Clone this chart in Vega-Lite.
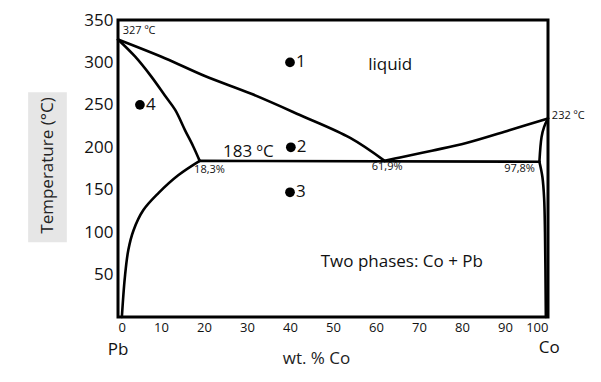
{
  "$schema": "https://vega.github.io/schema/vega-lite/v6.json",
  "width": 430,
  "height": 297,
  "autosize": "none",
  "padding": {"left": 118, "top": 20, "right": 53, "bottom": 65},
  "background": "white",
  "config": {
    "view": {"stroke": "black", "strokeWidth": 3},
    "font": "Open Sans",
    "axis": {"gridColor": "#efefef", "gridWidth": 1, "domain": false, "ticks": false, "labelColor": "#111", "titleColor": "#222", "labelFont": "Open Sans", "titleFont": "Open Sans", "titleFontWeight": "normal"}
  },
  "datasets": {
    "curves": [
      {"curve": "liqL", "o": 0, "x": 0, "t": 327},
      {"curve": "liqL", "o": 1, "x": 10.9, "t": 305},
      {"curve": "liqL", "o": 2, "x": 20.2, "t": 284},
      {"curve": "liqL", "o": 3, "x": 31, "t": 263},
      {"curve": "liqL", "o": 4, "x": 42.3, "t": 238},
      {"curve": "liqL", "o": 5, "x": 54, "t": 211},
      {"curve": "liqL", "o": 6, "x": 62, "t": 184},
      {"curve": "solL", "o": 0, "x": 0, "t": 327},
      {"curve": "solL", "o": 1, "x": 3.95, "t": 307},
      {"curve": "solL", "o": 2, "x": 7.8, "t": 283},
      {"curve": "solL", "o": 3, "x": 10.9, "t": 261},
      {"curve": "solL", "o": 4, "x": 13.3, "t": 244},
      {"curve": "solL", "o": 5, "x": 15.6, "t": 220},
      {"curve": "solL", "o": 6, "x": 17.5, "t": 201},
      {"curve": "solL", "o": 7, "x": 19, "t": 184},
      {"curve": "solvL", "o": 0, "x": 19, "t": 184},
      {"curve": "solvL", "o": 1, "x": 14, "t": 167},
      {"curve": "solvL", "o": 2, "x": 9.4, "t": 146},
      {"curve": "solvL", "o": 3, "x": 5.9, "t": 126},
      {"curve": "solvL", "o": 4, "x": 3.6, "t": 102},
      {"curve": "solvL", "o": 5, "x": 2.4, "t": 79},
      {"curve": "solvL", "o": 6, "x": 1.6, "t": 47},
      {"curve": "solvL", "o": 7, "x": 0.9, "t": 0},
      {"curve": "eut", "o": 0, "x": 19, "t": 184},
      {"curve": "eut", "o": 1, "x": 98, "t": 183},
      {"curve": "liqR", "o": 0, "x": 62, "t": 184},
      {"curve": "liqR", "o": 1, "x": 65.6, "t": 188},
      {"curve": "liqR", "o": 2, "x": 73, "t": 196},
      {"curve": "liqR", "o": 3, "x": 81, "t": 205},
      {"curve": "liqR", "o": 4, "x": 91, "t": 220},
      {"curve": "liqR", "o": 5, "x": 100, "t": 234},
      {"curve": "solR", "o": 0, "x": 100, "t": 234},
      {"curve": "solR", "o": 1, "x": 99.1, "t": 224},
      {"curve": "solR", "o": 2, "x": 98.5, "t": 212},
      {"curve": "solR", "o": 3, "x": 98, "t": 183},
      {"curve": "solvR", "o": 0, "x": 98, "t": 183},
      {"curve": "solvR", "o": 1, "x": 98.7, "t": 165},
      {"curve": "solvR", "o": 2, "x": 99.1, "t": 140},
      {"curve": "solvR", "o": 3, "x": 99.3, "t": 100},
      {"curve": "solvR", "o": 4, "x": 99.5, "t": 0}
    ],
    "points": [
      {"label": "1", "x": 40, "t": 300},
      {"label": "2", "x": 40.2, "t": 200},
      {"label": "3", "x": 40, "t": 147},
      {"label": "4", "x": 5.1, "t": 250}
    ],
    "small": [
      {"text": "327 ºC", "x": 1.1, "t": 337},
      {"text": "232 ºC", "x": 100.9, "t": 237},
      {"text": "18,3%", "x": 17.7, "t": 173},
      {"text": "61,9%", "x": 59.0, "t": 177},
      {"text": "97,8%", "x": 89.8, "t": 174}
    ],
    "big": [
      {"text": "183 ºC", "x": 30.3, "t": 195},
      {"text": "liquid", "x": 63.3, "t": 297},
      {"text": "Two phases: Co + Pb", "x": 66.0, "t": 65},
      {"text": "Pb", "x": 0, "t": -39},
      {"text": "Co", "x": 100.3, "t": -37}
    ]
  },
  "layer": [
    {
      "data": {"values": [{"box": "title"}]},
      "mark": {"type": "rect", "fill": "#e6e6e6", "clip": false},
      "encoding": {
        "x": {"datum": -20.9, "type": "quantitative"},
        "x2": {"datum": -11.9},
        "y": {"datum": 265, "type": "quantitative"},
        "y2": {"datum": 88}
      }
    },
    {
      "data": {"name": "curves"},
      "mark": {"type": "line", "color": "black", "strokeWidth": 2.6, "strokeJoin": "round", "strokeCap": "round", "interpolate": "catmull-rom"},
      "encoding": {
        "x": {
          "field": "x", "type": "quantitative",
          "scale": {"domain": [0, 100], "nice": false},
          "axis": {"values": [0, 10, 20, 30, 40, 50, 60, 70, 80, 90, 100], "labelFontSize": 13, "labelPadding": 4, "title": "wt. % Co", "titleFontSize": 17, "titleX": 198, "titleY": 41, "titleBaseline": "middle", "titleAlign": "center"}
        },
        "y": {
          "field": "t", "type": "quantitative",
          "scale": {"domain": [0, 350], "nice": false},
          "axis": {"zindex": 1, "values": [50, 100, 150, 200, 250, 300, 350], "labelFontSize": 17, "labelPadding": 5, "title": "Temperature (°C)", "titleFontSize": 17, "titleX": -71, "titleY": 145, "titleBaseline": "middle", "titleAlign": "center", "titleAngle": -90}
        },
        "detail": {"field": "curve"},
        "order": {"field": "o"}
      }
    },
    {
      "data": {"name": "points"},
      "mark": {"type": "point", "filled": true, "color": "black", "size": 95, "opacity": 1},
      "encoding": {
        "x": {"field": "x", "type": "quantitative"},
        "y": {"field": "t", "type": "quantitative"}
      }
    },
    {
      "data": {"name": "points"},
      "mark": {"type": "text", "align": "left", "baseline": "middle", "dx": 6, "fontSize": 17, "color": "#111"},
      "encoding": {
        "x": {"field": "x", "type": "quantitative"},
        "y": {"field": "t", "type": "quantitative"},
        "text": {"field": "label"}
      }
    },
    {
      "data": {"name": "small"},
      "mark": {"type": "text", "align": "left", "baseline": "middle", "fontSize": 11, "color": "#111"},
      "encoding": {
        "x": {"field": "x", "type": "quantitative"},
        "y": {"field": "t", "type": "quantitative"},
        "text": {"field": "text"}
      }
    },
    {
      "data": {"name": "big"},
      "mark": {"type": "text", "align": "center", "baseline": "middle", "fontSize": 17, "color": "#111"},
      "encoding": {
        "x": {"field": "x", "type": "quantitative"},
        "y": {"field": "t", "type": "quantitative"},
        "text": {"field": "text"}
      }
    }
  ]
}
